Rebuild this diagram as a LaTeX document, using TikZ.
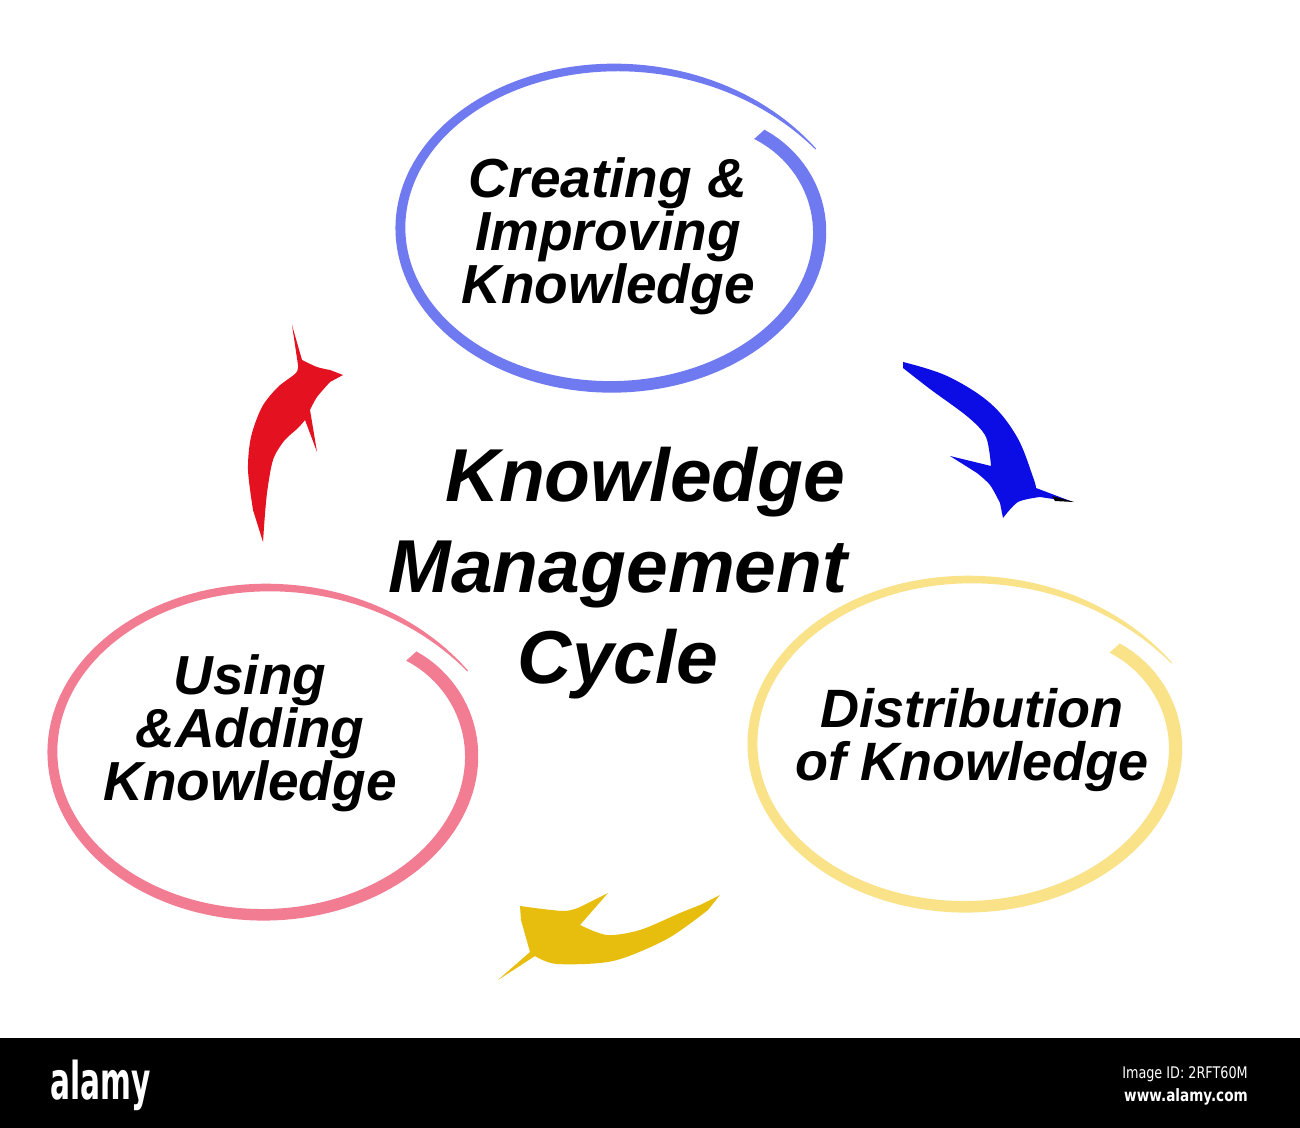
\documentclass[tikz,border=0pt]{standalone}
\usepackage{fontspec}
\setmainfont{Liberation Sans}
\newfontfamily\markfont{DejaVu Sans}
\definecolor{ringblue}{RGB}{112,122,240}
\definecolor{ringpink}{RGB}{242,124,146}
\definecolor{ringyellow}{RGB}{249,226,136}
\definecolor{arrowblue}{RGB}{12,12,228}
\definecolor{arrowred}{RGB}{228,18,32}
\definecolor{arrowgold}{RGB}{232,190,14}
% hand-drawn ring: cx, cy, rx, ry, colour
\newcommand{\kmring}[5]{%
  \fill[#5] plot[domain=0:1,samples=160,variable=\t]
    ({#1+(#3*(0.975-0.08*exp(-20*\t)+0.09*\t^12)+0.5*(14-7*\t)*(1-0.85*\t^14))*cos(40-373*\t)},
     {#2-(#4*(0.975-0.08*exp(-20*\t)+0.09*\t^12)+0.5*(14-7*\t)*(1-0.85*\t^14))*sin(40-373*\t)})
    -- plot[domain=1:0,samples=160,variable=\t]
    ({#1+(#3*(0.975-0.08*exp(-20*\t)+0.09*\t^12)-0.5*(14-7*\t)*(1-0.85*\t^14))*cos(40-373*\t)},
     {#2-(#4*(0.975-0.08*exp(-20*\t)+0.09*\t^12)-0.5*(14-7*\t)*(1-0.85*\t^14))*sin(40-373*\t)})
    -- cycle;}
\tikzset{
  ringtext/.style={inner sep=0pt,align=center,
    font=\fontsize{27.5}{26.5}\selectfont\bfseries\itshape},
  titletext/.style={inner sep=0pt,align=center,
    font=\fontsize{37.5}{45.5}\selectfont\bfseries\itshape}
}
\begin{document}
\begin{tikzpicture}[x=0.5pt,y=-0.5pt]
\path[use as bounding box,fill=white] (0,0) rectangle (1300,1128);

% rings
\kmring{611}{228}{216}{163}{ringblue}
\kmring{263}{752}{216}{167}{ringpink}
\kmring{965}{744}{218}{167}{ringyellow}

% ring texts
\node[ringtext] (create) at (608,236) {Creating \&\\Improving\\Knowledge};
\node[ringtext] (using) at (250,733) {Using\\\&Adding\\Knowledge};
\node[ringtext,font=\fontsize{27}{26.5}\selectfont\bfseries\itshape] (distrib) at (972,740) {Distribution\\of Knowledge};

% title
\node[titletext] (title) at (618,573) {\hspace*{27pt}Knowledge\\Management\\Cycle};

% blue arrow (create -> distribution)
\fill[arrowblue] plot[smooth,tension=0.6] coordinates {(903,362) (947,376) (990,403) (1017,437) (1033,477) (1036,488)}
  -- (1073,502)
  -- plot[smooth] coordinates {(1040,497) (1018,502) (1003,518)}
  -- plot[smooth] coordinates {(1000,503) (990,485) (977,473)}
  -- (950,456)
  -- plot[smooth] coordinates {(991,466) (986,437) (968,417) (930,389) (903,368)}
  -- cycle;
\fill[black] (1052,496) -- (1074,502) -- (1055,501) -- cycle;

% gold arrow (distribution -> using)
\fill[arrowgold] (720,895)
  -- plot[smooth] coordinates {(700,905) (680,913) (640,930) (607,935) (580,925)}
  -- (608,893)
  -- plot[smooth] coordinates {(580,907) (563,911) (520,906)}
  -- plot[smooth] coordinates {(521,920) (530,952)}
  -- (498,980)
  -- plot[smooth] coordinates {(535,956) (557,964) (613,961) (667,939) (708,910)}
  -- cycle;

% red arrow (using -> create)
\fill[arrowred] (263,542)
  -- plot[smooth] coordinates {(253,510) (248,470) (251,437) (262,407) (278,387) (296,373) (298,365)}
  -- (292,325)
  -- plot[smooth] coordinates {(302,360) (317,367) (330,370)}
  -- (343,375)
  -- plot[smooth] coordinates {(330,382) (317,397) (310,410)}
  -- (317,452)
  -- plot[smooth] coordinates {(305,420) (298,428) (284,441) (273,460) (267,493) (264,527)}
  -- cycle;

% watermark bar
\fill[black] (0,1038) rectangle (1300,1128);
\node[inner sep=0pt,text=white,xscale=0.57,font=\markfont\fontsize{26}{26}\selectfont\bfseries] (alamy) at (101,1085) {alamy};
\node[inner sep=0pt,text=white,xscale=0.8,font=\markfont\fontsize{8}{8}\selectfont] (imgid) at (1185,1074) {Image ID: 2RFT60M};
\node[inner sep=0pt,text=white,xscale=0.8,font=\markfont\fontsize{8.5}{8.5}\selectfont\bfseries] (www) at (1186,1097) {www.alamy.com};
\end{tikzpicture}
\end{document}
